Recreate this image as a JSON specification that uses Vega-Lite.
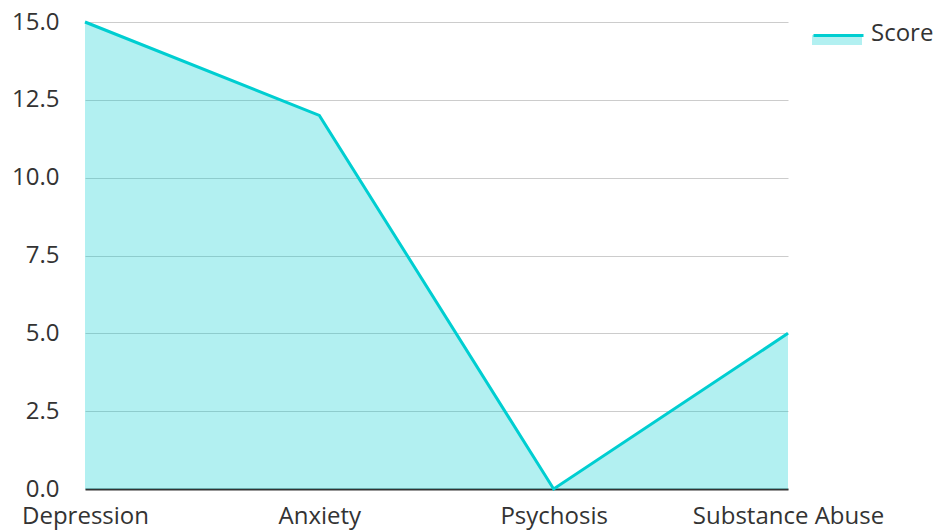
{
  "$schema": "https://vega.github.io/schema/vega-lite/v6.json",
  "width": 703,
  "height": 467,
  "autosize": "none",
  "padding": {"left": 85, "top": 22, "right": 148, "bottom": 42},
  "config": {
    "font": "Open Sans",
    "view": {"stroke": null},
    "axis": {"labelFont": "Open Sans", "labelFontSize": 24, "labelColor": "#333333", "title": null}
  },
  "data": {"values": [
    {"category": "Depression", "score": 15, "series": "Score"},
    {"category": "Anxiety", "score": 12, "series": "Score"},
    {"category": "Psychosis", "score": 0, "series": "Score"},
    {"category": "Substance Abuse", "score": 5, "series": "Score"}
  ]},
  "encoding": {
    "x": {"field": "category", "type": "ordinal", "sort": null,
      "scale": {"type": "point", "padding": 0},
      "axis": {"labelAngle": 0, "ticks": false, "grid": false, "domain": true, "domainColor": "#333333", "domainWidth": 2, "labelPadding": 15, "labelLimit": 400, "labelOverlap": false, "labelBound": false}},
    "y": {"field": "score", "type": "quantitative",
      "scale": {"domain": [0, 15], "nice": false},
      "axis": {"values": [0, 2.5, 5, 7.5, 10, 12.5, 15], "format": ".1f", "ticks": false, "domain": false, "gridColor": "#cccccc", "gridWidth": 1, "labelPadding": 26}}
  },
  "layer": [
    {
      "mark": {"type": "area", "opacity": 0.3},
      "encoding": {
        "fill": {"field": "series", "type": "nominal", "scale": {"range": ["#00CED1"]},
          "legend": {"orient": "none", "legendX": 727, "legendY": -13, "title": null, "symbolType": "M-1,0.04H1V0.44H-1Z", "symbolSize": 2500, "symbolOpacity": 0.3, "symbolStrokeWidth": 0, "labelFontSize": 24, "labelColor": "#333333", "labelFont": "Open Sans", "labelOffset": 9}}
      }
    },
    {
      "mark": {"type": "line", "strokeWidth": 3},
      "encoding": {
        "stroke": {"field": "series", "type": "nominal", "scale": {"range": ["#00CED1"]},
          "legend": {"orient": "none", "legendX": 727, "legendY": -13, "title": null, "symbolType": "stroke", "symbolSize": 2500, "symbolStrokeWidth": 3, "labelExpr": "''", "labelFontSize": 1}}
      }
    }
  ],
  "resolve": {"scale": {"fill": "independent", "stroke": "independent"}, "legend": {"fill": "independent", "stroke": "independent"}}
}
